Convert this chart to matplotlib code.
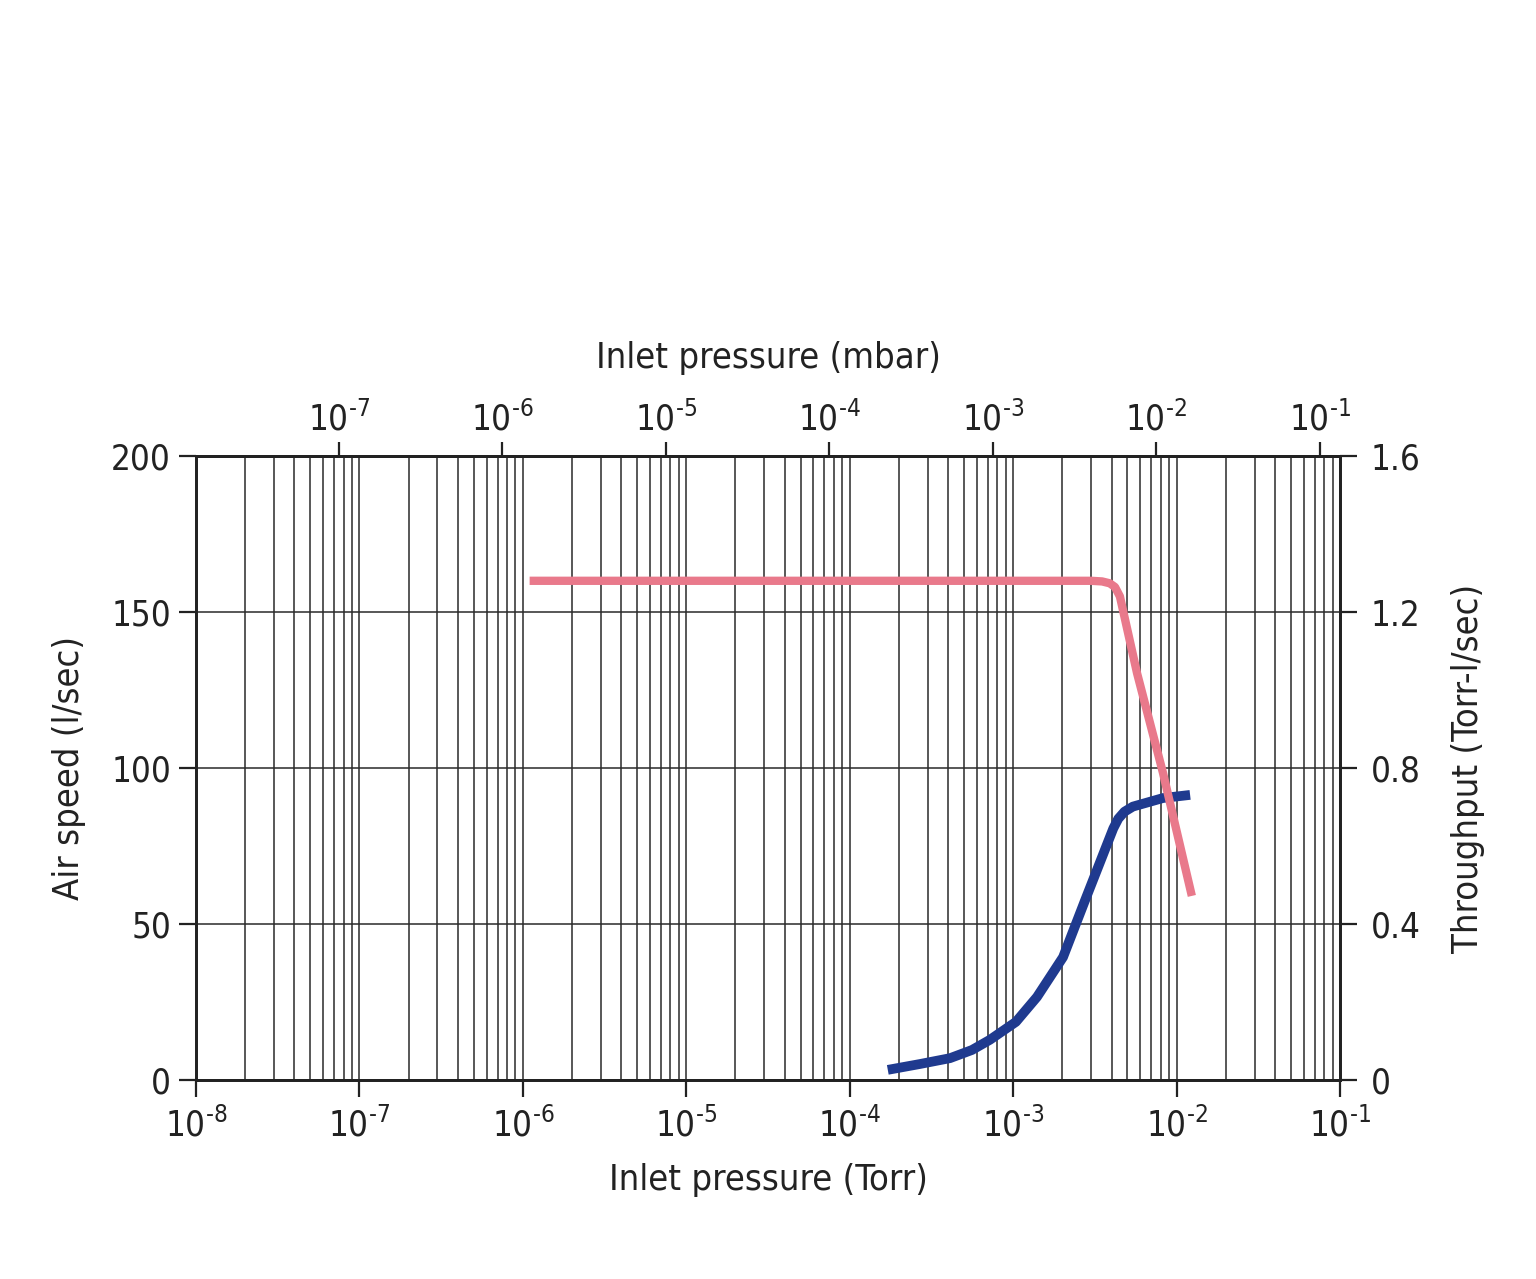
import math
import matplotlib
matplotlib.use("Agg")
import matplotlib.pyplot as plt
from matplotlib.ticker import LogLocator, FixedLocator, FuncFormatter, NullFormatter

plt.rcParams['font.family'] = ['DejaVu Sans']
plt.rcParams['font.stretch'] = 'condensed'
plt.rcParams['mathtext.fontset'] = 'custom'
plt.rcParams['mathtext.rm'] = 'DejaVu Sans:stretch=condensed'
plt.rcParams['mathtext.it'] = 'DejaVu Sans:stretch=condensed'

# ---- data ----
speed_p = [1.1e-6, 1e-5, 1e-4, 1e-3, 3.0e-3, 3.5e-3, 3.9e-3, 4.2e-3, 4.5e-3, 5.73e-3, 8.26e-3, 1.24e-2]
speed_v = [160, 160, 160, 160, 160, 159.8, 159.2, 158, 155, 130.4, 98.4, 59]

thr_p = [1.71e-4, 2.69e-4, 4.11e-4, 5.6e-4, 7.2e-4, 1.04e-3, 1.4e-3, 2.02e-3, 2.75e-3,
         4.1e-3, 4.4e-3, 4.8e-3, 5.4e-3, 8.26e-3, 1.21e-2]
thr_v = [0.026, 0.041, 0.056, 0.077, 0.103, 0.149, 0.213, 0.315, 0.46,
         0.645, 0.67, 0.688, 0.701, 0.723, 0.731]

left_ticks = [0, 50, 100, 150, 200]
right_ticks = [0, 0.4, 0.8, 1.2, 1.6]
mbar_ticks = [1e-7, 1e-6, 1e-5, 1e-4, 1e-3, 1e-2, 1e-1]
TORR_TO_MBAR = 1.33322

PINK = '#E9798B'
BLUE = '#1F3A8F'
GRID = '#2a2a2a'
TXT = '#222222'

fig = plt.figure(figsize=(15.36, 12.79), dpi=100)
ax = fig.add_axes([196/1536, 1 - 1080/1279, (1340-196)/1536, (1080-456)/1279])

ax.set_xscale('log')
ax.set_xlim(1e-8, 1e-1)
ax.set_ylim(0, 200)
ax.xaxis.set_major_locator(LogLocator(base=10, numticks=20))
ax.xaxis.set_minor_locator(LogLocator(base=10, subs=range(2, 10), numticks=20))
ax.xaxis.set_minor_formatter(NullFormatter())

def logfmt(v, pos):
    e = int(round(math.log10(v)))
    return r'$\mathregular{10^{\text{-}%d}}$' % abs(e)
ax.xaxis.set_major_formatter(FuncFormatter(logfmt))
ax.yaxis.set_major_locator(FixedLocator(left_ticks))
ax.grid(True, which='both', axis='x', color=GRID, linewidth=1.1)
ax.grid(True, which='major', axis='y', color=GRID, linewidth=1.1)
ax.set_axisbelow(True)
ax.tick_params(axis='both', which='major', direction='out', length=12, width=1.6,
               labelsize=25, color=TXT, labelcolor=TXT, pad=6)
ax.tick_params(axis='x', which='major', pad=8)
ax.tick_params(axis='x', which='minor', length=0)
for s in ax.spines.values():
    s.set_linewidth(2)
    s.set_color(TXT)
ax.set_xlabel('Inlet pressure (Torr)', fontsize=26, color=TXT, labelpad=14)
ax.set_ylabel('Air speed (l/sec)', fontsize=26, color=TXT, labelpad=18)

# right axis: throughput
ax2 = ax.twinx()
ax2.set_ylim(0, 1.6)
ax2.yaxis.set_major_locator(FixedLocator(right_ticks))
ax2.yaxis.set_major_formatter(FuncFormatter(lambda v, p: '0' if v == 0 else '%.1f' % v))
ax2.tick_params(axis='y', direction='out', length=12, width=1.6, labelsize=25,
                color=TXT, labelcolor=TXT, pad=10)
for s in ax2.spines.values():
    s.set_linewidth(2)
    s.set_color(TXT)
ax2.set_ylabel('Throughput (Torr-l/sec)', fontsize=26, color=TXT, labelpad=22)
ax2.plot(thr_p, thr_v, color=BLUE, linewidth=7, solid_capstyle='butt',
         solid_joinstyle='round', zorder=3)

# pink curve on a hidden twin sharing the air-speed scale
ax3 = ax.twinx()
ax3.set_ylim(0, 200)
ax3.axis('off')
ax3.plot(speed_p, speed_v, color=PINK, linewidth=6, solid_capstyle='butt',
         solid_joinstyle='round', zorder=4)

# top axis in mbar
top = ax.secondary_xaxis('top', functions=(lambda t: t * TORR_TO_MBAR, lambda m: m / TORR_TO_MBAR))
top.xaxis.set_major_locator(FixedLocator(mbar_ticks))
top.xaxis.set_minor_locator(FixedLocator([]))
top.xaxis.set_major_formatter(FuncFormatter(logfmt))
top.tick_params(axis='x', which='major', direction='out', length=10, width=1.6,
                labelsize=25, color=TXT, labelcolor=TXT, pad=3)
top.spines['top'].set_linewidth(2)
top.set_xlabel('Inlet pressure (mbar)', fontsize=26, color=TXT, labelpad=24)

fig.savefig('out.png', dpi=100, facecolor='white')
